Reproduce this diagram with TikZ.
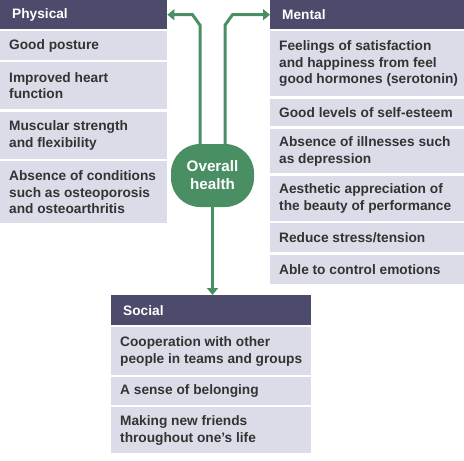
\documentclass[tikz,border=0pt]{standalone}
\usepackage{fontspec}
\setmainfont{Liberation Sans}
\usetikzlibrary{arrows.meta,calc}
\definecolor{hdr}{HTML}{4C4B6B}
\definecolor{boxbg}{HTML}{DCDCE8}
\definecolor{grn}{HTML}{4A8E63}
\definecolor{txt}{HTML}{333333}
\tikzset{
  boxbase/.style={anchor=north west, inner sep=0pt},
  hdrbox/.style={boxbase, fill=hdr},
  itembox/.style={boxbase, fill=boxbg},
  label/.style={anchor=west, inner sep=0pt, align=left,
    font=\fontsize{13.7}{16.7}\selectfont\bfseries},
  hdrlabel/.style={label, text=white},
  itemlabel/.style={label, text=txt},
  garrow/.style={draw=grn, line width=3pt, -{Triangle[length=7pt,width=11pt]}},
  oval/.style={fill=grn, text=white, rounded corners=29pt, minimum width=83pt,
    minimum height=63pt, align=center, inner sep=0pt,
    font=\fontsize{15.2}{18}\selectfont\bfseries}
}
\newcommand{\bx}[6]{% name, x, y, w, h, text
  \node[itembox, minimum width=#4pt, minimum height=#5pt] (#1) at (#2pt,-#3pt) {};
  \node[itemlabel] (#1-t) at ([xshift=9pt]#1.west) {#6};}
\newcommand{\hx}[6]{% name, x, y, w, h, text
  \node[hdrbox, minimum width=#4pt, minimum height=#5pt] (#1) at (#2pt,-#3pt) {};
  \node[hdrlabel] (#1-t) at ([xshift=12pt]#1.west) {#6};}
\begin{document}
\begin{tikzpicture}
\useasboundingbox (0,0) rectangle (464pt,-461pt);
% Physical
\hx{phys}{0}{0}{167}{29}{Physical}
\bx{p1}{0}{31}{167}{29}{Good posture}
\bx{p2}{0}{62}{167}{47}{Improved heart\\function}
\bx{p3}{0}{112}{167}{47}{Muscular strength\\and flexibility}
\bx{p4}{0}{161}{167}{62}{Absence of conditions\\such as osteoporosis\\and osteoarthritis}
% Mental
\hx{ment}{270}{0}{194}{29}{Mental}
\bx{m1}{270}{31}{194}{65}{Feelings of satisfaction\\and happiness from feel\\good hormones (serotonin)}
\bx{m2}{270}{99}{194}{27}{Good levels of self-esteem}
\bx{m3}{270}{129}{194}{44}{Absence of illnesses such\\as depression}
\bx{m4}{270}{176}{194}{45}{Aesthetic appreciation of\\the beauty of performance}
\bx{m5}{270}{223}{194}{29}{Reduce stress/tension}
\bx{m6}{270}{255}{194}{29}{Able to control emotions}
% Social
\hx{soc}{111}{295}{200}{30}{Social}
\bx{s1}{111}{327}{200}{48}{Cooperation with other\\people in teams and groups}
\bx{s2}{111}{377}{200}{28}{A sense of belonging}
\bx{s3}{111}{407}{200}{46}{Making new friends\\throughout one’s life}
% Centre
\node[oval] (oh) at (212.5pt,-175.5pt) {Overall\\health};
\draw[garrow] ([xshift=-12.5pt]oh.north) -- ($(oh.north |- phys.east)+(-12.5pt,-10.5pt)$)
  -- ($(oh.north |- phys.east)+(-20pt,0pt)$) -- (phys.east);
\draw[garrow] ([xshift=12.5pt]oh.north) -- ($(oh.north |- ment.west)+(12.5pt,-10.5pt)$)
  -- ($(oh.north |- ment.west)+(20pt,0pt)$) -- (ment.west);
\draw[garrow] (oh.south) -- (oh.south |- soc.north);
\end{tikzpicture}
\end{document}
